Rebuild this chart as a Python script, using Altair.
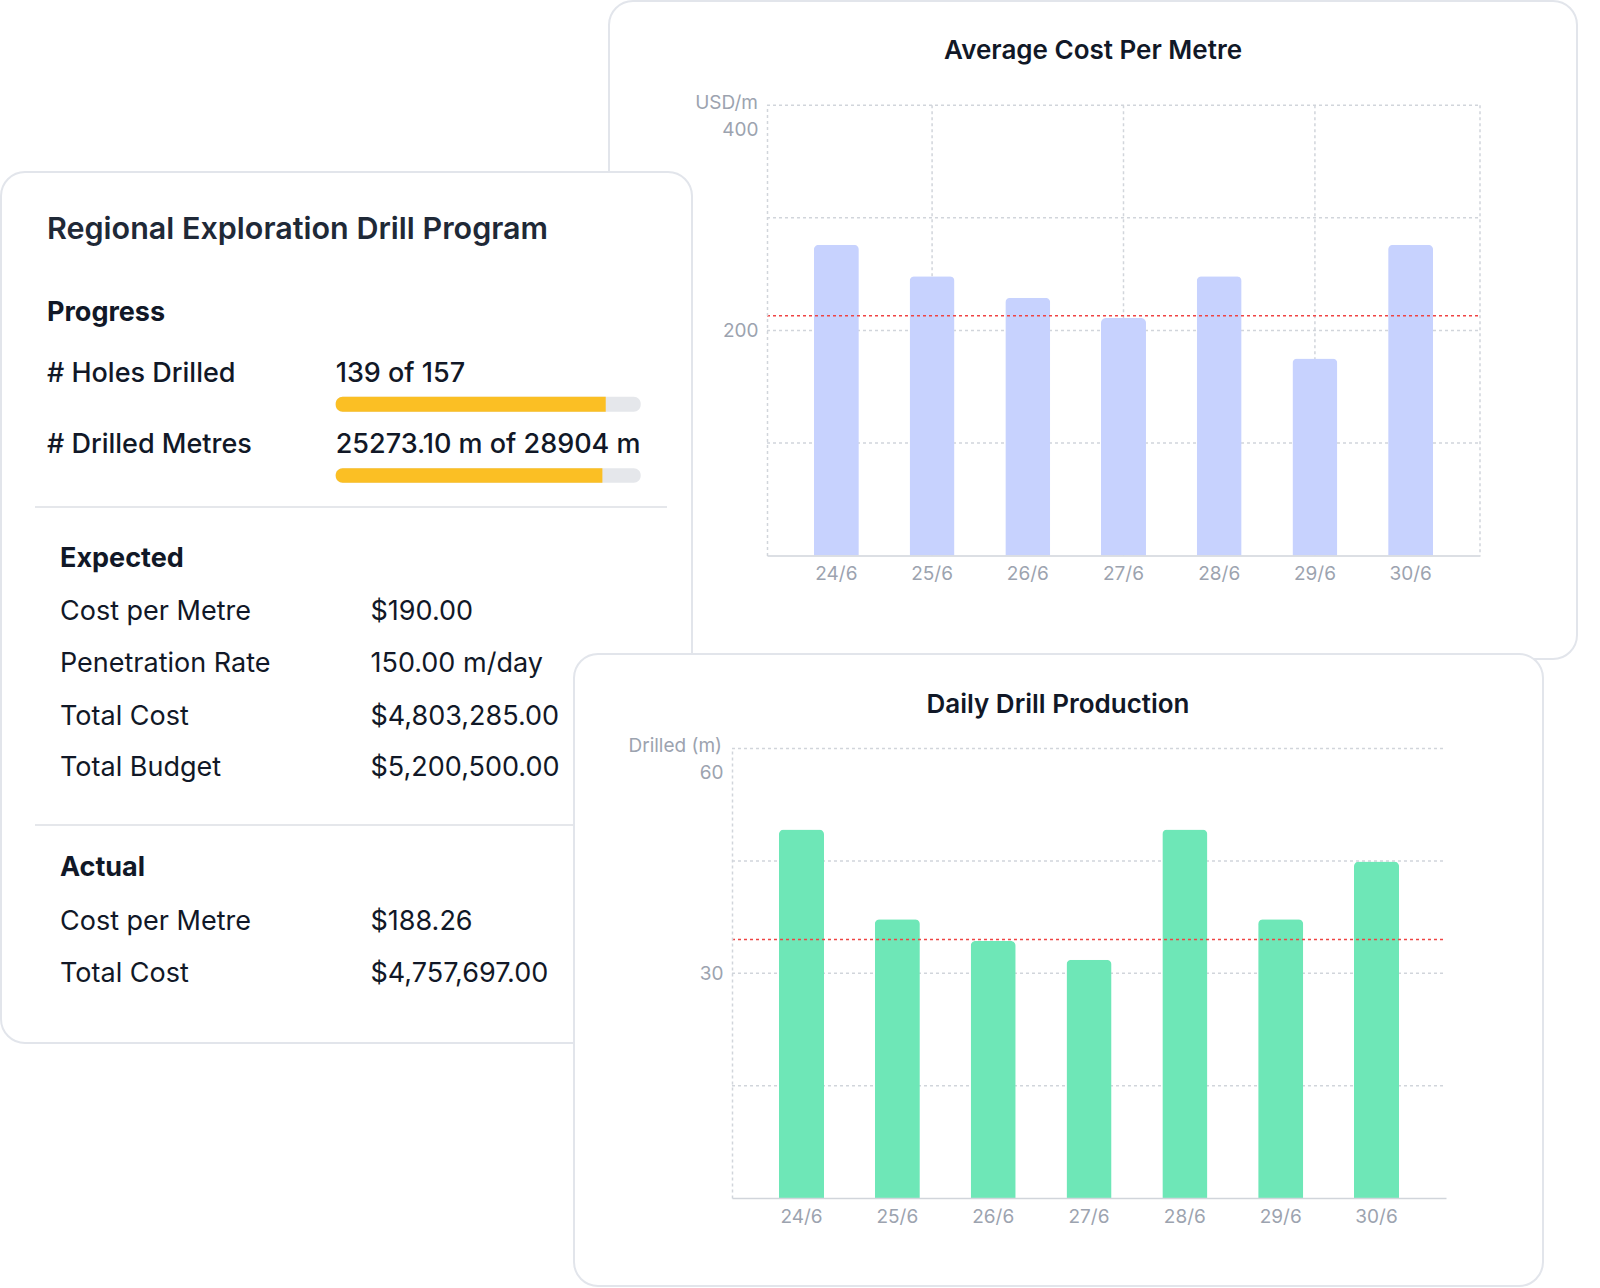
import altair as alt
import pandas as pd

FONT = "Inter"
W, H = 1600, 1288

# ---------------- data ----------------
days = ["24/6", "25/6", "26/6", "27/6", "28/6", "29/6", "30/6"]

cost_per_metre = [276, 248, 229, 211, 248, 175, 276]      # USD per metre
cost_reference = 213
cost_ticks = [100, 200, 300, 400]
cost_tick_labels = [200, 400]
cost_grid_days = ["25/6", "27/6", "29/6"]

drilled_metres = [49.2, 37.2, 34.3, 31.8, 49.2, 37.2, 44.9]
drilled_reference = 34.5
drilled_ticks = [15, 30, 45, 60]
drilled_tick_labels = [30, 60]

program_title = "Regional Exploration Drill Program"
progress_names = ["# Holes Drilled", "# Drilled Metres"]
progress_text = ["139 of 157", "25273.10 m of 28904 m"]
progress_done = [139, 25273.10]
progress_total = [157, 28904]

expected_names = ["Cost per Metre", "Penetration Rate", "Total Cost", "Total Budget"]
expected_values = ["$190.00", "150.00 m/day", "$4,803,285.00", "$5,200,500.00"]
actual_names = ["Cost per Metre", "Total Cost"]
actual_values = ["$188.26", "$4,757,697.00"]

# ---------------- styling ----------------
GRID = "#d1d5db"
AXIS_TEXT = "#9ca3af"
CARD_BORDER = "#e2e5eb"
INK = "#111827"
BODY = 27

one = pd.DataFrame({"k": [0]})


def card(x0, y0, x1, y1):
    return alt.Chart(one).mark_rect(
        fill="white", stroke=CARD_BORDER, strokeWidth=2, cornerRadius=24
    ).encode(x=alt.value(x0), x2=alt.value(x1), y=alt.value(y0), y2=alt.value(y1))


def text(t, x, y, size, weight=400, color=INK, align="left"):
    return alt.Chart(one).mark_text(
        text=t, align=align, baseline="middle", font=FONT,
        fontSize=size, fontWeight=weight, color=color,
    ).encode(x=alt.value(x), y=alt.value(y))


def bar_panel(values, reference, ticks, tick_labels, y_max, color, title, unit,
              box, title_pos, unit_pos, grid_days=None, right_edge=False):
    x0, x1, y0, y1 = box  # plot area on the canvas
    xs = alt.Scale(domain=days, range=[x0, x1], paddingInner=0.53, paddingOuter=0.49)
    ys = alt.Scale(domain=[0, y_max], range=[y1, y0], nice=False, zero=True)
    x_axis = alt.Axis(
        orient="bottom", offset=y1 - H, title=None, ticks=False, grid=False, zindex=1,
        domainColor=GRID, domainWidth=1.5, labelFont=FONT, labelFontSize=19,
        labelColor=AXIS_TEXT, labelPadding=9, labelAngle=0,
    )
    y_axis = alt.Axis(
        orient="left", offset=-x0, title=None, values=tick_labels, ticks=False,
        grid=False, zindex=1, domainColor=GRID, domainDash=[3, 3], domainWidth=1.5,
        labelFont=FONT, labelFontSize=19, labelColor=AXIS_TEXT, labelPadding=9,
        labelOffset={"condition": {"test": f"datum.value == {y_max}", "value": 24}, "value": 0},
    )

    def X(f):
        return alt.X(f"{f}:N", scale=xs, axis=x_axis, sort=days)

    def Y(f):
        return alt.Y(f"{f}:Q", scale=ys, axis=y_axis)

    data = pd.DataFrame({"day": days, "value": values})
    layers = []

    grid = alt.Chart(pd.DataFrame({"tick": ticks})).mark_rule(
        color=GRID, strokeDash=[3, 3], strokeWidth=1.5
    ).encode(y=Y("tick"), x=alt.value(x0), x2=alt.value(x1))
    layers.append(grid)

    if grid_days:
        vgrid = alt.Chart(pd.DataFrame({"day": grid_days})).mark_rule(
            color=GRID, strokeDash=[3, 3], strokeWidth=1.5
        ).encode(x=X("day"), y=alt.value(y0), y2=alt.value(y1))
        layers.append(vgrid)
    if right_edge:
        edge = alt.Chart(one).mark_rule(
            color=GRID, strokeDash=[3, 3], strokeWidth=1.5
        ).encode(x=alt.value(x1), y=alt.value(y0), y2=alt.value(y1))
        layers.append(edge)

    bars = alt.Chart(data).mark_bar(
        color=color, cornerRadiusTopLeft=5, cornerRadiusTopRight=5
    ).encode(x=X("day"), y=Y("value"))
    layers.append(bars)

    ref = alt.Chart(pd.DataFrame({"ref": [reference]})).mark_rule(
        color="#ef4444", strokeDash=[3, 3], strokeWidth=1.5
    ).encode(y=Y("ref"), x=alt.value(x0), x2=alt.value(x1))
    layers.append(ref)

    layers.append(text(unit, unit_pos[0], unit_pos[1], 19, color=AXIS_TEXT, align="right"))
    layers.append(text(title, title_pos[0], title_pos[1], 26, weight=600, color=INK, align="center"))
    return alt.layer(*layers)


# ---------------- cost per metre card ----------------
cost_card = card(609, 1, 1577, 659)
cost_panel = bar_panel(
    cost_per_metre, cost_reference, cost_ticks, cost_tick_labels, 400, "#c7d2fe",
    "Average Cost Per Metre", "USD/m",
    box=(767, 1480, 105.2, 555.6), title_pos=(1093, 50.5), unit_pos=(758, 103),
    grid_days=cost_grid_days, right_edge=True,
)

# ---------------- programme summary card ----------------
summary_card = card(1, 172, 692, 1043)
summary = [text(program_title, 47, 230, 30.5, weight=600, color="#1f2937"),
           text("Progress", 47, 313, BODY, weight=700)]

row_y = [373.7, 444.7]
bar_y = [(396.7, 411.7), (468.3, 482.7)]
prog_scale = alt.Scale(domain=[0, 1], range=[335.7, 640.7])
prog_layers = []
for name, label, done, total, ty, (b0, b1) in zip(
        progress_names, progress_text, progress_done, progress_total, row_y, bar_y):
    summary.append(text(name, 47, ty, BODY, weight=500))
    summary.append(text(label, 335.7, ty, BODY, weight=500))
    track = alt.Chart(pd.DataFrame({"start": [0.0], "end": [1.0]})).mark_rect(
        color="#e5e7eb", cornerRadius=7
    ).encode(x=alt.X("start:Q", scale=prog_scale, axis=None), x2="end:Q",
             y=alt.value(b0), y2=alt.value(b1))
    fill = alt.Chart(pd.DataFrame({"start": [0.0], "share": [done / total]})).mark_rect(
        color="#fbbf24", cornerRadiusTopLeft=7, cornerRadiusBottomLeft=7
    ).encode(x=alt.X("start:Q", scale=prog_scale, axis=None), x2="share:Q",
             y=alt.value(b0), y2=alt.value(b1))
    prog_layers += [track, fill]
summary.append(alt.layer(*prog_layers))

divider = lambda y: alt.Chart(one).mark_rule(color="#e5e7eb", strokeWidth=2).encode(
    x=alt.value(35), x2=alt.value(667), y=alt.value(y))
summary.append(divider(507))
summary.append(text("Expected", 60, 558.5, BODY, weight=700))
for name, val, y in zip(expected_names, expected_values, [612, 664, 716.5, 768]):
    summary.append(text(name, 60, y, BODY))
    summary.append(text(val, 370.5, y, BODY))
summary.append(divider(825))
summary.append(text("Actual", 60, 868, BODY, weight=700))
for name, val, y in zip(actual_names, actual_values, [921.5, 974]):
    summary.append(text(name, 60, y, BODY))
    summary.append(text(val, 370.5, y, BODY))

# ---------------- daily drill production card ----------------
drill_card = card(574, 654, 1543, 1286)
drill_panel = bar_panel(
    drilled_metres, drilled_reference, drilled_ticks, drilled_tick_labels, 60, "#6ee7b7",
    "Daily Drill Production", "Drilled (m)",
    box=(732, 1446, 748.5, 1198), title_pos=(1058, 705), unit_pos=(722, 746),
)

chart = alt.layer(
    cost_card, cost_panel, summary_card, *summary, drill_card, drill_panel
).resolve_scale(x="independent", y="independent").resolve_axis(
    x="independent", y="independent"
).properties(
    width=W, height=H, padding=0, autosize=alt.AutoSizeParams(type="none"),
    background="white",
).configure_view(stroke=None)

chart.save("out.html", embed_options={"renderer": "svg", "actions": False})
